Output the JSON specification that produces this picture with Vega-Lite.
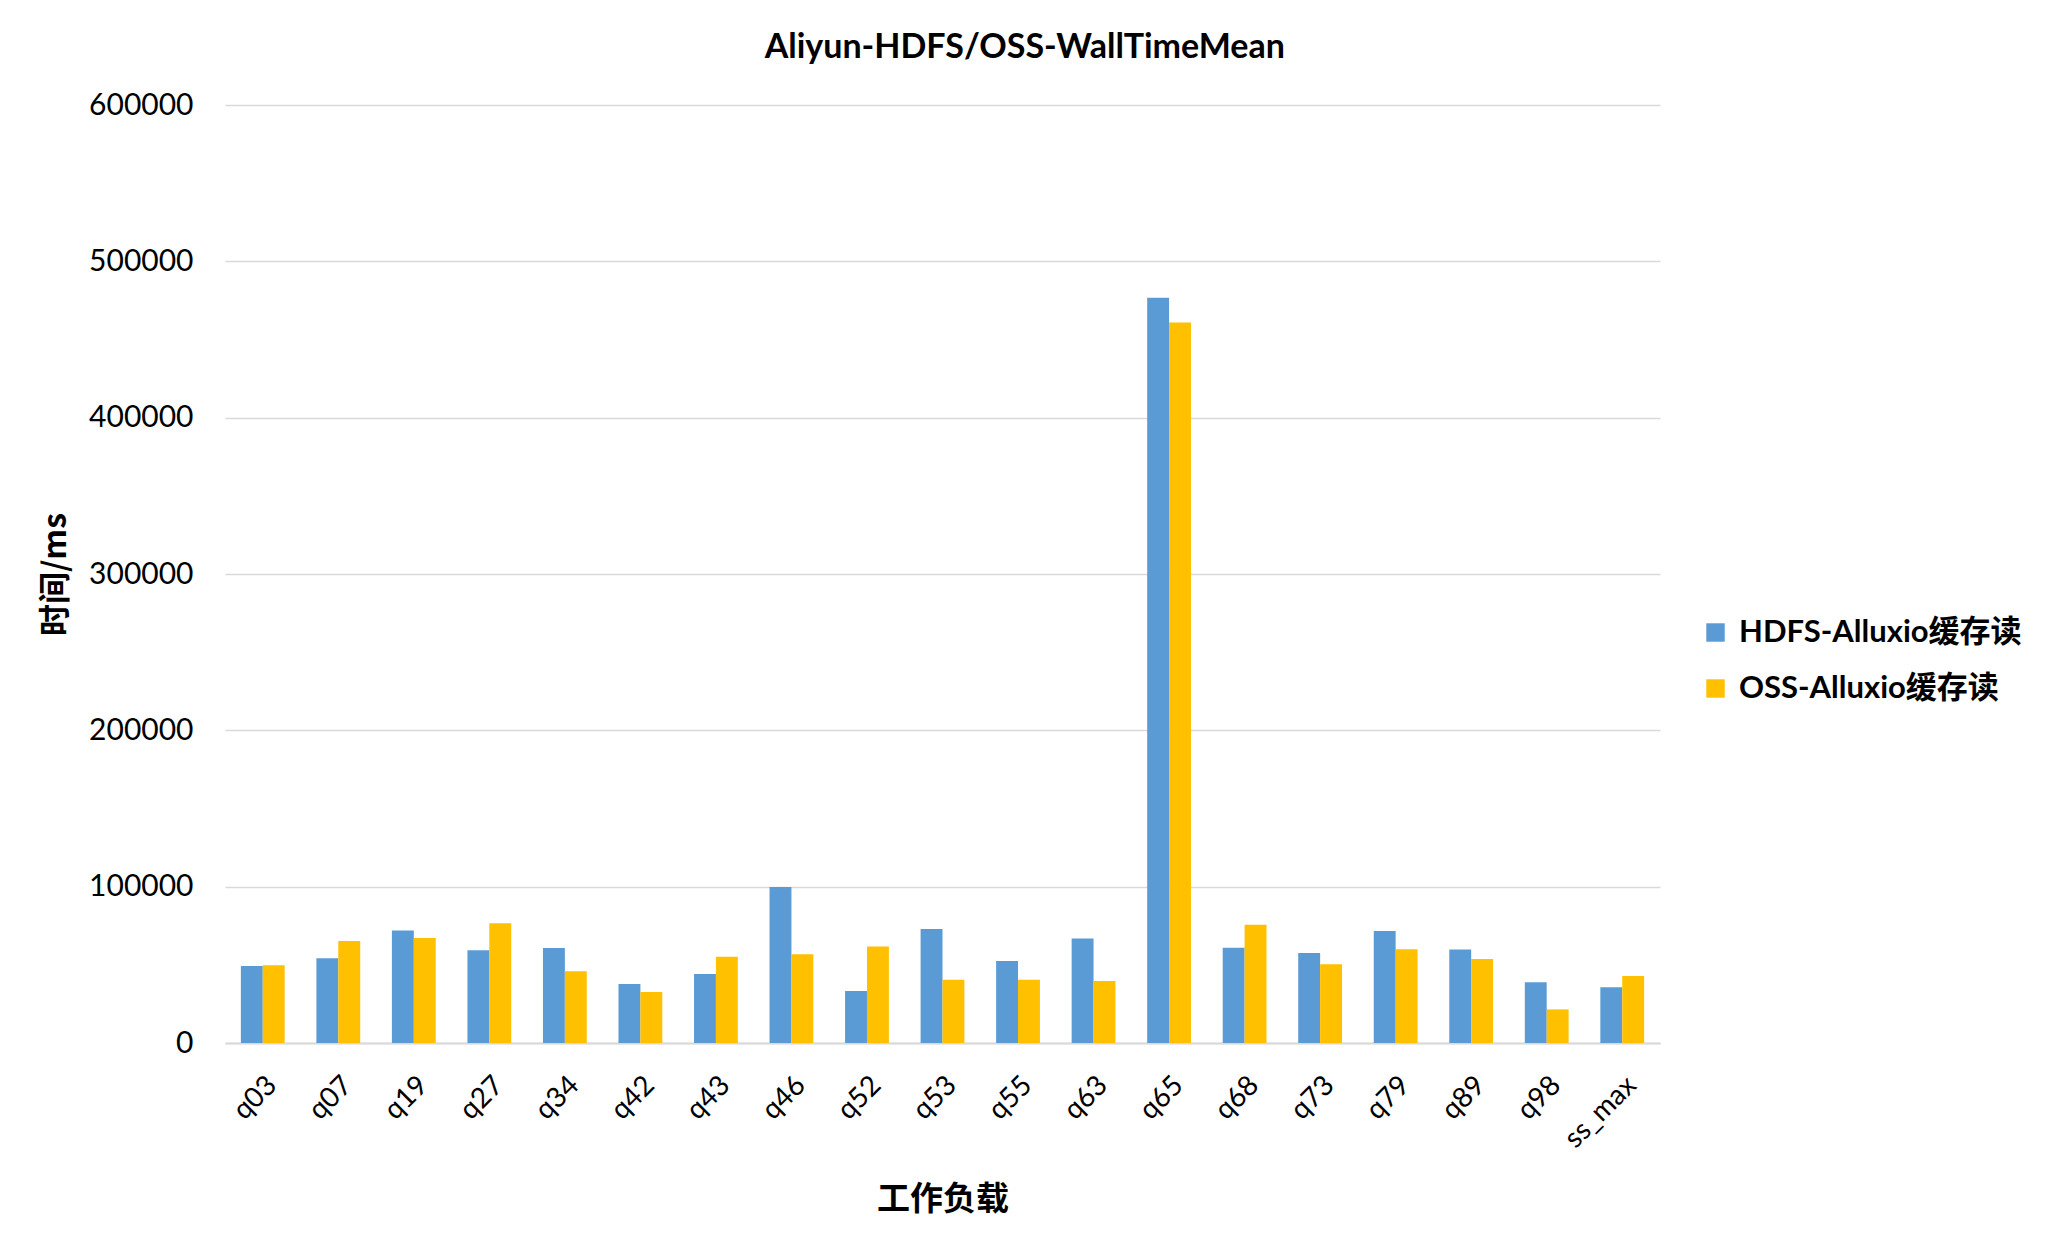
{
  "$schema": "https://vega.github.io/schema/vega-lite/v6.json",
  "width": 1435,
  "height": 938,
  "autosize": {"type": "none"},
  "padding": {"left": 225, "top": 105, "right": 388, "bottom": 214},
  "background": "white",
  "title": {
    "text": "Aliyun-HDFS/OSS-WallTimeMean",
    "font": "Lato, Noto Sans CJK SC",
    "fontSize": 34,
    "fontWeight": "bold",
    "color": "#000000",
    "frame": "bounds",
    "anchor": "middle",
    "dx": -6,
    "offset": 25
  },
  "config": {
    "font": "Lato, Noto Sans CJK SC",
    "view": {"stroke": null}
  },
  "data": {
    "values": [
      {"query": "q03", "series": "HDFS-Alluxio缓存读", "time": 49300},
      {"query": "q03", "series": "OSS-Alluxio缓存读", "time": 49800},
      {"query": "q07", "series": "HDFS-Alluxio缓存读", "time": 54200},
      {"query": "q07", "series": "OSS-Alluxio缓存读", "time": 65300},
      {"query": "q19", "series": "HDFS-Alluxio缓存读", "time": 71900},
      {"query": "q19", "series": "OSS-Alluxio缓存读", "time": 67200},
      {"query": "q27", "series": "HDFS-Alluxio缓存读", "time": 59300},
      {"query": "q27", "series": "OSS-Alluxio缓存读", "time": 76600},
      {"query": "q34", "series": "HDFS-Alluxio缓存读", "time": 60800},
      {"query": "q34", "series": "OSS-Alluxio缓存读", "time": 45900},
      {"query": "q42", "series": "HDFS-Alluxio缓存读", "time": 37700},
      {"query": "q42", "series": "OSS-Alluxio缓存读", "time": 32700},
      {"query": "q43", "series": "HDFS-Alluxio缓存读", "time": 44200},
      {"query": "q43", "series": "OSS-Alluxio缓存读", "time": 55100},
      {"query": "q46", "series": "HDFS-Alluxio缓存读", "time": 99800},
      {"query": "q46", "series": "OSS-Alluxio缓存读", "time": 56800},
      {"query": "q52", "series": "HDFS-Alluxio缓存读", "time": 33200},
      {"query": "q52", "series": "OSS-Alluxio缓存读", "time": 61700},
      {"query": "q53", "series": "HDFS-Alluxio缓存读", "time": 72900},
      {"query": "q53", "series": "OSS-Alluxio缓存读", "time": 40400},
      {"query": "q55", "series": "HDFS-Alluxio缓存读", "time": 52500},
      {"query": "q55", "series": "OSS-Alluxio缓存读", "time": 40400},
      {"query": "q63", "series": "HDFS-Alluxio缓存读", "time": 66800},
      {"query": "q63", "series": "OSS-Alluxio缓存读", "time": 39600},
      {"query": "q65", "series": "HDFS-Alluxio缓存读", "time": 476700},
      {"query": "q65", "series": "OSS-Alluxio缓存读", "time": 460800},
      {"query": "q68", "series": "HDFS-Alluxio缓存读", "time": 61000},
      {"query": "q68", "series": "OSS-Alluxio缓存读", "time": 75700},
      {"query": "q73", "series": "HDFS-Alluxio缓存读", "time": 57600},
      {"query": "q73", "series": "OSS-Alluxio缓存读", "time": 50400},
      {"query": "q79", "series": "HDFS-Alluxio缓存读", "time": 71700},
      {"query": "q79", "series": "OSS-Alluxio缓存读", "time": 60000},
      {"query": "q89", "series": "HDFS-Alluxio缓存读", "time": 59800},
      {"query": "q89", "series": "OSS-Alluxio缓存读", "time": 53800},
      {"query": "q98", "series": "HDFS-Alluxio缓存读", "time": 38900},
      {"query": "q98", "series": "OSS-Alluxio缓存读", "time": 21500},
      {"query": "ss_max", "series": "HDFS-Alluxio缓存读", "time": 35700},
      {"query": "ss_max", "series": "OSS-Alluxio缓存读", "time": 42800}
    ]
  },
  "mark": {"type": "bar"},
  "encoding": {
    "x": {
      "field": "query",
      "type": "nominal",
      "sort": null,
      "scale": {"paddingInner": 0.42, "paddingOuter": 0.21},
      "axis": {
        "title": "工作负载",
        "titleFont": "Noto Sans CJK SC",
        "titleFontSize": 33,
        "titleFontWeight": "bold",
        "titleColor": "#000000",
        "titlePadding": 30,
        "labelAngle": -45,
        "labelFontSize": 28,
        "labelColor": "#000000",
        "labelPadding": 28,
        "ticks": false,
        "domainColor": "#D9D9D9",
        "domainWidth": 2
      }
    },
    "xOffset": {"field": "series", "type": "nominal", "scale": {"paddingInner": 0}},
    "y": {
      "field": "time",
      "type": "quantitative",
      "scale": {"domain": [0, 600000]},
      "axis": {
        "title": "时间/ms",
        "titleFont": "Noto Sans CJK SC",
        "titleFontSize": 32,
        "titleFontWeight": "bold",
        "titleColor": "#000000",
        "titlePadding": 16,
        "values": [0, 100000, 200000, 300000, 400000, 500000, 600000],
        "format": "d",
        "labelFontSize": 30,
        "labelColor": "#000000",
        "labelPadding": 32,
        "ticks": false,
        "domain": false,
        "gridColor": "#D9D9D9",
        "gridWidth": 1.5
      }
    },
    "color": {
      "field": "series",
      "type": "nominal",
      "scale": {
        "domain": ["HDFS-Alluxio缓存读", "OSS-Alluxio缓存读"],
        "range": ["#5B9BD5", "#FFC000"]
      },
      "legend": {
        "title": null,
        "orient": "none",
        "legendX": 1475,
        "legendY": 512,
        "symbolType": "square",
        "symbolSize": 340,
        "symbolStrokeWidth": 0,
        "labelFont": "Lato, Noto Sans CJK SC",
        "labelFontSize": 31,
        "labelFontWeight": "bold",
        "labelColor": "#000000",
        "labelLimit": 450,
        "rowPadding": 24,
        "labelOffset": 8
      }
    }
  }
}
